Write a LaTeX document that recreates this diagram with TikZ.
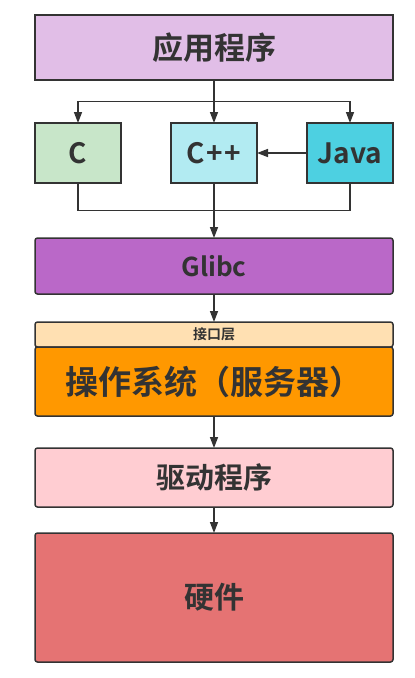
\documentclass[tikz,border=0pt]{standalone}
\usepackage{fontspec}
\setmainfont{Noto Sans CJK SC}[BoldFont={Noto Sans CJK SC Bold}]
\usepackage{tikz}
\usetikzlibrary{arrows.meta,positioning,calc}
\definecolor{ink}{HTML}{333333}
\definecolor{appc}{HTML}{E1BEE7}
\definecolor{cc}{HTML}{C8E6C9}
\definecolor{cppc}{HTML}{B2EBF2}
\definecolor{javac}{HTML}{4DD0E1}
\definecolor{glibcc}{HTML}{BA68C8}
\definecolor{ifacec}{HTML}{FFE0B2}
\definecolor{osc}{HTML}{FF9800}
\definecolor{drvc}{HTML}{FFCDD2}
\definecolor{hwc}{HTML}{E57373}
\begin{document}
\begin{tikzpicture}[x=1pt,y=-1pt,>={Triangle[length=11pt,width=8pt]},
box/.style={draw=ink,line width=1.5pt,outer sep=0pt,text=ink,font=\bfseries\fontsize{28}{28}\selectfont,inner sep=0pt},
layer/.style={box,minimum width=358pt,rounded corners=2.5pt},
lang/.style={box,minimum width=86pt,minimum height=60pt},
arr/.style={->,draw=ink,line width=1.5pt}]
\useasboundingbox (0,0) rectangle (415,678);
\node[box,minimum width=358pt,minimum height=65pt,fill=appc,font=\bfseries\fontsize{31}{31}\selectfont] (app) at (214,47.5) {应用程序};
\node[lang,below=43pt of app,fill=cppc] (cxx) {C\kern1pt+\kern2pt+};
\node[lang,left=50pt of cxx,fill=cc] (c) {C};
\node[lang,right=50pt of cxx,fill=javac] (java) {Java};
\node[layer,below=55pt of cxx,minimum height=56pt,fill=glibcc,font=\bfseries\fontsize{26}{26}\selectfont] (glibc) {Glibc};
\node[layer,below=28pt of glibc,minimum height=25pt,fill=ifacec,font=\bfseries\fontsize{14}{14}\selectfont] (iface) {接口层};
\node[layer,below=0pt of iface,minimum height=69pt,fill=osc,font=\bfseries\fontsize{33}{33}\selectfont] (os) {操作系统（服务器）};
\node[layer,below=32pt of os,minimum height=59pt,fill=drvc,font=\bfseries\fontsize{29}{29}\selectfont] (drv) {驱动程序};
\node[layer,below=26pt of drv,minimum height=129pt,fill=hwc,font=\bfseries\fontsize{30}{30}\selectfont] (hw) {硬件};
\coordinate (split) at ($(app.south)!0.5!(cxx.north)$);
\coordinate (join) at ($(cxx.south)!0.5!(glibc.north)$);
\draw[arr] (app.south) -- (cxx.north);
\draw[arr] (split) -| (c.north);
\draw[arr] (split) -| (java.north);
\draw[arr] (java.west) -- (cxx.east);
\draw[draw=ink,line width=1.5pt] (c.south) |- (join) -| (java.south);
\draw[arr] (cxx.south) -- (glibc.north);
\draw[arr] (glibc.south) -- (iface.north);
\draw[arr] (os.south) -- (drv.north);
\draw[arr] (drv.south) -- (hw.north);
\end{tikzpicture}
\end{document}
